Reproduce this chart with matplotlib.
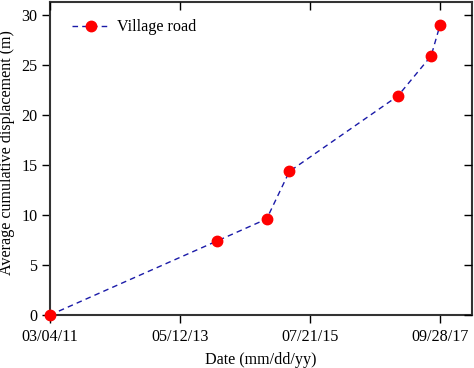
import matplotlib
matplotlib.use('Agg')
import matplotlib.pyplot as plt
import matplotlib.dates as mdates
import numpy as np
from datetime import date, timedelta

# -------------------------------------------------------------------
# données
# -------------------------------------------------------------------
dates = ['2011-03-04', '2013-12-26', '2014-10-27', '2015-03-16',
         '2017-01-12', '2017-08-04', '2017-09-28']
displacement = [0.0, 7.4, 9.6, 14.35, 21.9, 25.9, 29.0]
tick_dates = ['2011-03-04', '2013-05-12', '2015-07-21', '2017-09-28']
label = 'Village road'

x = [date.fromisoformat(d) for d in dates]
xt = [date.fromisoformat(d) for d in tick_dates]

# -------------------------------------------------------------------
# figure
# -------------------------------------------------------------------
plt.rcParams['font.family'] = ['Liberation Serif', 'DejaVu Serif']
fs = 11.6

fig = plt.figure(figsize=(4.74, 3.68), dpi=100)
ax = fig.add_axes([0.1055, 0.144, 0.8905, 0.851])

ax.plot(x, displacement, linestyle=(0, (4, 3)), color='#1a1aa8', linewidth=1.0,
        marker='o', markersize=7.5, markerfacecolor='#ff0000',
        markeredgecolor='#ff0000', label=label, clip_on=False, zorder=3)

xlim = (date(2011, 3, 4), date(2017, 9, 28) + timedelta(days=197))
ylim = (0, 31.3)
yt = np.arange(0, 31, 5)
ax.set_xlim(*xlim)
ax.set_ylim(*ylim)
ax.set_xticks(xt)
ax.xaxis.set_major_formatter(mdates.DateFormatter('%m/%d/%y'))
ax.set_yticks(yt)

ax.tick_params(direction='out', length=6, width=1, labelsize=fs)
ax.tick_params(axis='x', pad=4)
ax.tick_params(axis='y', pad=3)
for s in ax.spines.values():
    s.set_linewidth(1.5)
    s.set_color('#333333')

# ticks en haut et à droite, vers l'intérieur
axt = ax.twiny()
axt.set_xlim(*xlim)
axt.set_xticks(xt)
axt.tick_params(axis='x', direction='in', length=6, width=1, labeltop=False)
axr = ax.twinx()
axr.set_ylim(*ylim)
axr.set_yticks(yt)
axr.tick_params(axis='y', direction='in', length=6, width=1, labelright=False)
for a in (axt, axr):
    for s in a.spines.values():
        s.set_visible(False)

ax.set_xlabel('Date (mm/dd/yy)', fontsize=fs, labelpad=5)
ax.set_ylabel('Average cumulative displacement (m)', fontsize=fs)
ax.yaxis.set_label_coords(-0.082, 0.52)

ax.legend(loc='upper left', frameon=False, fontsize=fs, handlelength=2.35,
          handletextpad=0.4, bbox_to_anchor=(0.03, 0.975), borderaxespad=0.2)

fig.savefig('out.png', dpi=100)
